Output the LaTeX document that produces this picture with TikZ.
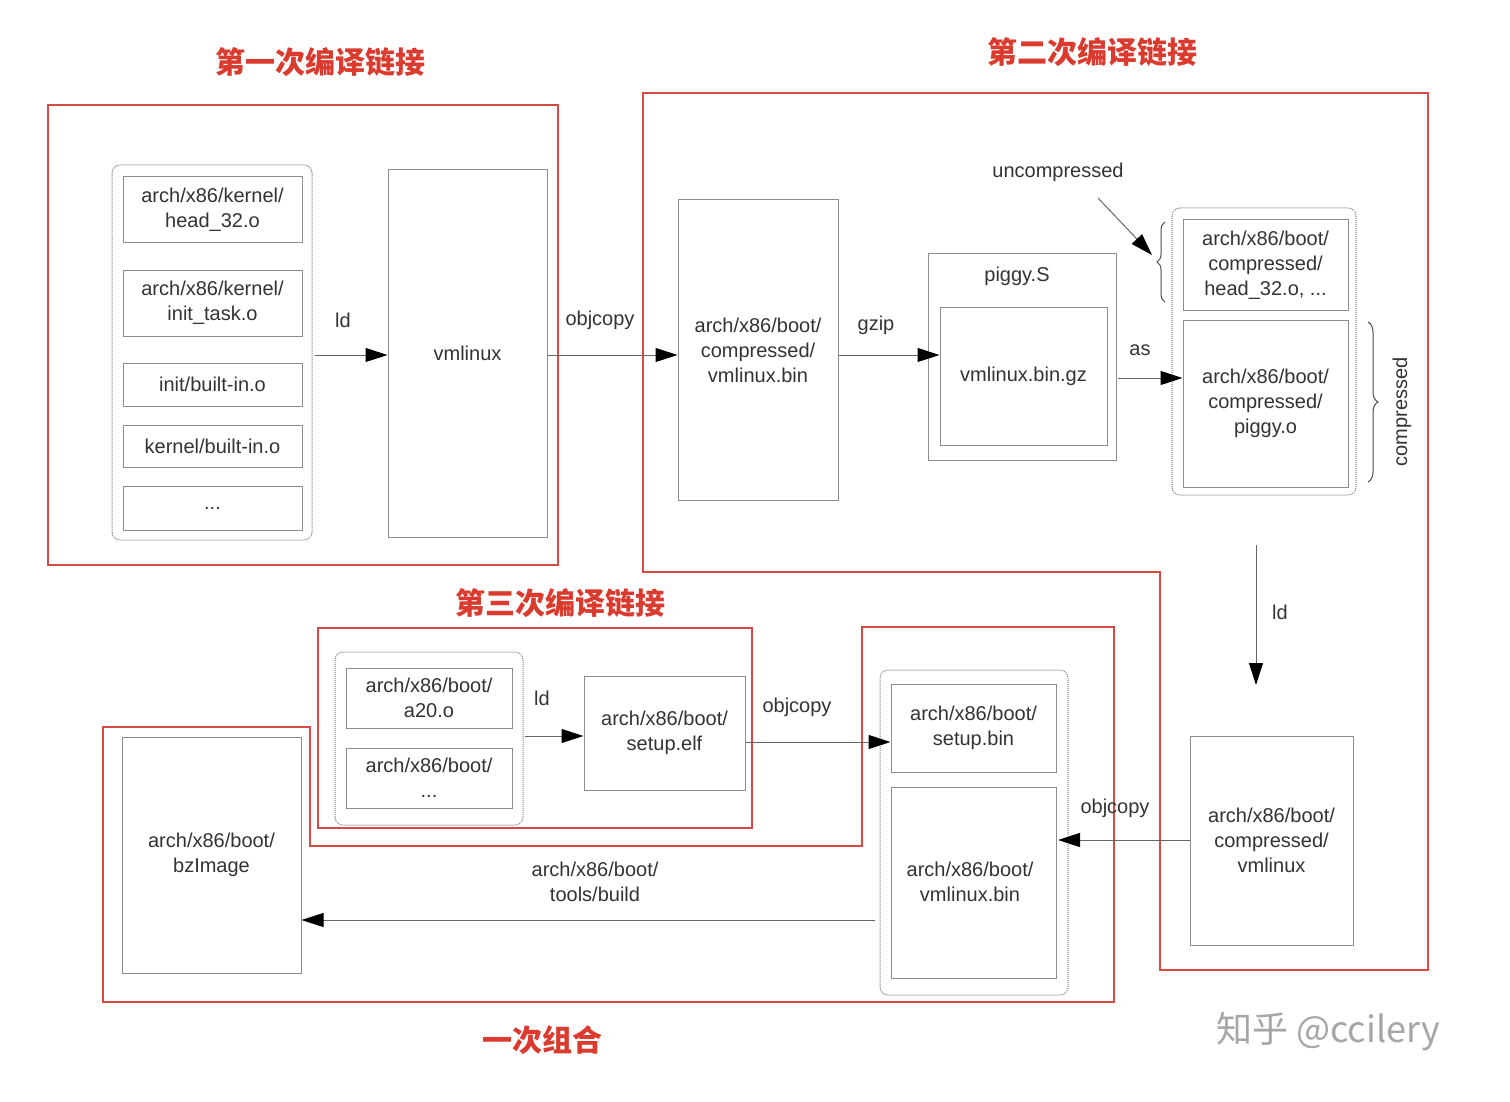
\documentclass[tikz,border=0pt]{standalone}
\usepackage{fontspec}
\setmainfont{Liberation Sans}
\newfontfamily\cjk{Noto Sans CJK SC}
\usetikzlibrary{decorations.pathreplacing,arrows.meta}
\definecolor{fr}{HTML}{D94A45}
\definecolor{tr}{HTML}{DB3B2E}
\begin{document}
\begin{tikzpicture}[x=1pt,y=-1pt,
 txt/.style={font=\fontsize{20}{25}\selectfont,align=center,text=black!80},
 ttl/.style={font=\cjk\bfseries\fontsize{30}{34}\selectfont,text=tr},
 frame/.style={draw=fr,line width=1.5pt},
 gbox/.style={draw=black!45,line width=1pt,fill=white},
 grp/.style={draw=black!50,densely dotted,line width=1pt,rounded corners=8pt},
 arr/.style={draw=black!60,line width=1pt,-{Triangle[length=22pt,width=14pt,fill=black,color=black]}}]
\useasboundingbox (0,0) rectangle (1510,1102);
\fill[white] (0,0) rectangle (1510,1102);
% titles
\node[ttl] (t1) at (320,62) {第一次编译链接};
\node[ttl] (t2) at (1092,52) {第二次编译链接};
\node[ttl] (t3) at (560,603) {第三次编译链接};
\node[ttl] (t4) at (542,1040) {一次组合};
% red frames
\draw[frame] (48,105) rectangle (558,565);
\draw[frame] (643,93) -- (1428,93) -- (1428,970) -- (1160,970) -- (1160,572) -- (643,572) -- cycle;
\draw[frame] (318,628) rectangle (752,828);
\draw[frame] (103,727) -- (310,727) -- (310,846) -- (862,846) -- (862,627) -- (1114,627) -- (1114,1002) -- (103,1002) -- cycle;
% first stage
\draw[grp] (112,165) rectangle (312,540);
\node[gbox,txt,minimum width=179pt,minimum height=66pt] (k1) at (212.5,210) {arch/x86/kernel/\\head\_32.o};
\node[gbox,txt,minimum width=179pt,minimum height=66pt] (k2) at (212.5,303) {arch/x86/kernel/\\init\_task.o};
\node[gbox,txt,minimum width=179pt,minimum height=43pt] (k3) at (212.5,384.5) {init/built-in.o};
\node[gbox,txt,minimum width=179pt,minimum height=42pt] (k4) at (212.5,446) {kernel/built-in.o};
\node[gbox,txt,minimum width=179pt,minimum height=44pt] (k5) at (212.5,508) {...};
\node[gbox,txt,minimum width=159pt,minimum height=367pt] (vm) at (467.5,353.5) {vmlinux};
\coordinate (g1) at (315,355);
\draw[arr] (g1) -- (vm.west|-g1);
\node[txt] (l1) at (343,320) {ld};
\node[gbox,txt,minimum width=160pt,minimum height=300pt] (vb) at (758,350) {arch/x86/boot/\\compressed/\\vmlinux.bin};
\draw[arr] (vm.east|-g1) -- (vb.west|-g1);
\node[txt] (l2) at (600,320) {objcopy};
% second stage
\node[gbox,minimum width=188pt,minimum height=207pt] (ps) at (1022,356.5) {};
\node[txt] (psl) at (1017,276) {piggy.S};
\node[gbox,txt,minimum width=167pt,minimum height=138pt] (gz) at (1023.5,376) {vmlinux.bin.gz};
\draw[arr] (vb.east|-g1) -- (gz.west|-g1);
\node[txt] (l3) at (876,325) {gzip};
\draw[grp] (1172,208) rectangle (1356,495);
\node[gbox,txt,minimum width=165pt,minimum height=90pt] (h32) at (1265.5,265) {arch/x86/boot/\\compressed/\\head\_32.o, ...};
\node[gbox,txt,minimum width=165pt,minimum height=167pt] (po) at (1265.5,403.5) {arch/x86/boot/\\compressed/\\piggy.o};
\coordinate (g2) at (1118,378);
\draw[arr] (g2) -- (po.west|-g2);
\node[txt] (l4) at (1140,350) {as};
\node[txt] (unc) at (1058,172) {uncompressed};
\coordinate (ue) at (1152,255);
\draw[arr] (1098,198) -- (ue);
\draw[black!70,line width=1pt,decorate,decoration={brace,amplitude=8pt}] (1165,302) -- (1165,222);
\draw[black!70,line width=1pt,decorate,decoration={brace,amplitude=10pt}] (1368,322) -- (1368,482);
\node[txt,rotate=90] (cmp) at (1402,412) {compressed};
\node[gbox,txt,minimum width=163pt,minimum height=209pt] (cv) at (1271.5,840.5) {arch/x86/boot/\\compressed/\\vmlinux};
\coordinate (g3) at (1256,545);
\draw[arr] (g3) -- (1256,685);
\node[txt] (l5) at (1280,612) {ld};
% third stage
\draw[grp] (335,652) rectangle (523,825);
\node[gbox,txt,minimum width=166pt,minimum height=60pt] (a20) at (429,698) {arch/x86/boot/\\a20.o};
\node[gbox,txt,minimum width=166pt,minimum height=60pt] (ad) at (429,778) {arch/x86/boot/\\...};
\node[gbox,txt,minimum width=161pt,minimum height=114pt] (se) at (664.5,733) {arch/x86/boot/\\setup.elf};
\coordinate (g4) at (525,736);
\draw[arr] (g4) -- (se.west|-g4);
\node[txt] (l6) at (542,698) {ld};
\draw[grp] (880,670) rectangle (1068,995);
\node[gbox,txt,minimum width=165pt,minimum height=88pt] (sb) at (973.5,728) {arch/x86/boot/\\setup.bin};
\node[gbox,minimum width=165pt,minimum height=191pt] (vbb) at (973.5,882.5) {};
\node[txt] (vbt) at (970,882) {arch/x86/boot/\\vmlinux.bin};
\coordinate (g5) at (746,742);
\draw[arr] (g5) -- (sb.west|-g5);
\node[txt] (l7) at (797,707) {objcopy};
\coordinate (g6) at (1190,840);
\draw[arr] (g6) -- (1058,840);
\node[txt] (l8) at (1115,808) {objcopy};
% final
\node[gbox,txt,minimum width=179pt,minimum height=236pt] (bz) at (211.5,855) {arch/x86/boot/\\bzImage};
\coordinate (g7) at (875,920);
\draw[arr] (g7) -- (bz.east|-g7);
\node[txt] (l9) at (595,882) {arch/x86/boot/\\tools/build};
\node[font=\cjk\fontsize{36}{40}\selectfont,text=black!35] (wm) at (1328,1032) {知乎 @ccilery};
\end{tikzpicture}
\end{document}
